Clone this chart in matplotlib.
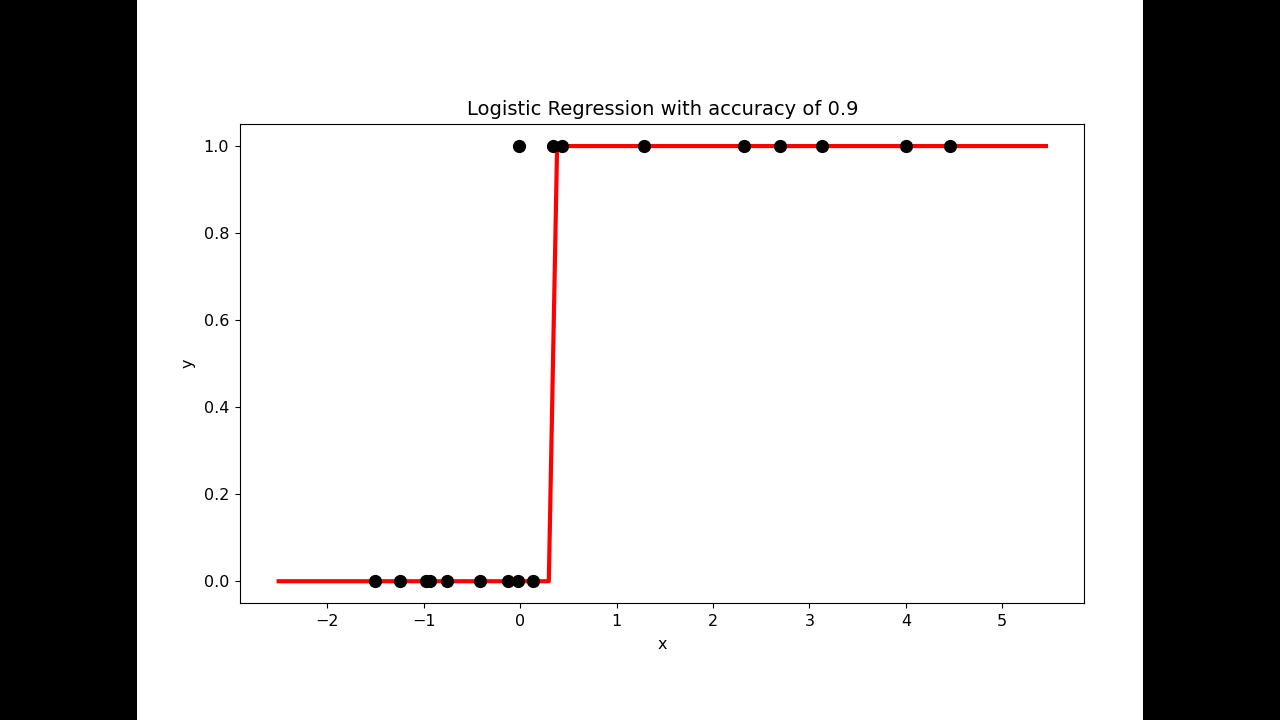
import matplotlib
matplotlib.use('Agg')
import matplotlib.pyplot as plt
from matplotlib.patches import Rectangle

# sample points (class 0 and class 1)
x_zero = [-1.505, -1.251, -0.982, -0.933, -0.764, -0.420, -0.124, -0.021, 0.128]
x_one = [-0.013, 0.342, 0.435, 1.285, 2.318, 2.691, 3.126, 3.997, 4.453]

# fitted logistic curve as drawn (very steep)
curve_x = [-2.505, 0.297, 0.383, 5.453]
curve_y = [0.0, 0.0, 1.0, 1.0]

fig = plt.figure(figsize=(12.8, 7.2), dpi=100, facecolor='black')
fig.patches.append(Rectangle((137 / 1280, 0), 1006 / 1280, 1, transform=fig.transFigure,
                             facecolor='white', edgecolor='none', zorder=-10))

ax = fig.add_axes([240.3 / 1280, 117 / 720, 844 / 1280, 478.7 / 720])
ax.plot(curve_x, curve_y, color='red', lw=3, zorder=2)
ax.plot(x_zero, [0] * len(x_zero), 'o', color='black', ms=8.5, zorder=3)
ax.plot(x_one, [1] * len(x_one), 'o', color='black', ms=8.5, zorder=3)

ax.set_title('Logistic Regression with accuracy of 0.9', fontsize=14, pad=7)
ax.set_xlabel('x', fontsize=11.5, labelpad=6)
ax.set_ylabel('y', fontsize=11.5, labelpad=6)
ax.tick_params(labelsize=11.5, pad=4.5)

fig.savefig('out.png', facecolor=fig.get_facecolor())
